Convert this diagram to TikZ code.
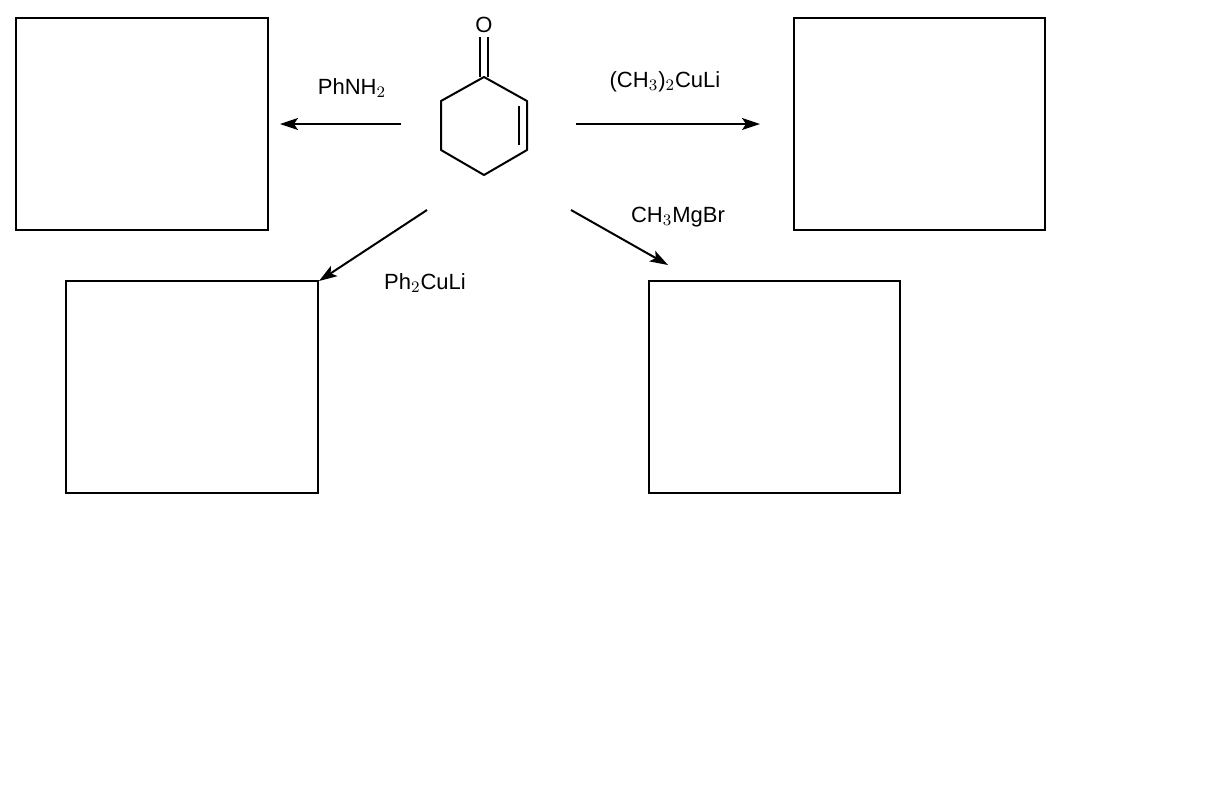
\documentclass[tikz,border=0pt]{standalone}
\usepackage{fontspec}
\setmainfont{Liberation Sans}
\usetikzlibrary{arrows.meta}
\begin{document}
\begin{tikzpicture}[x=0.5pt,y=-0.5pt,line width=1pt,
  box/.style={draw,line width=1pt},
  rx/.style={-{Stealth[length=9pt,width=6pt,inset=2pt]},line width=1pt},
  lab/.style={font=\fontsize{11}{13}\selectfont}]
\useasboundingbox (0,0) rectangle (1232,794);
\draw[box] (16,18) rectangle (268,230);
\draw[box] (794,18) rectangle (1045,230);
\draw[box] (66,281) rectangle (318,493);
\draw[box] (649,281) rectangle (900,493);
% molecule
\coordinate (c1) at (484,77);
\coordinate (c2) at (527,101);
\coordinate (c3) at (527,150);
\coordinate (c4) at (484,175);
\coordinate (c5) at (441,150);
\coordinate (c6) at (441,101);
\draw[line join=round] (c1)--(c2)--(c3)--(c4)--(c5)--(c6)--cycle;
\draw (519,106)--(519,145);
\node[lab,inner sep=0pt] (O) at (484,25) {O};
\draw (480,77)--(480,37) (488,77)--(488,37);
% arrows
\coordinate (a1s) at (401,124); \coordinate (a1e) at (280,124);
\draw[rx] (a1s)--(a1e);
\node[lab] (l1) at (352,88) {PhNH$_2$};
\coordinate (a2s) at (576,124); \coordinate (a2e) at (760,124);
\draw[rx] (a2s)--(a2e);
\node[lab] (l2) at (665,82) {(CH$_3$)$_2$CuLi};
\coordinate (a3s) at (427,210); \coordinate (a3e) at (319,281);
\draw[rx] (a3s)--(a3e);
\node[lab] (l3) at (425,283) {Ph$_2$CuLi};
\coordinate (a4s) at (571,210); \coordinate (a4e) at (668,265);
\draw[rx] (a4s)--(a4e);
\node[lab] (l4) at (678,217) {CH$_3$MgBr};
\end{tikzpicture}
\end{document}
